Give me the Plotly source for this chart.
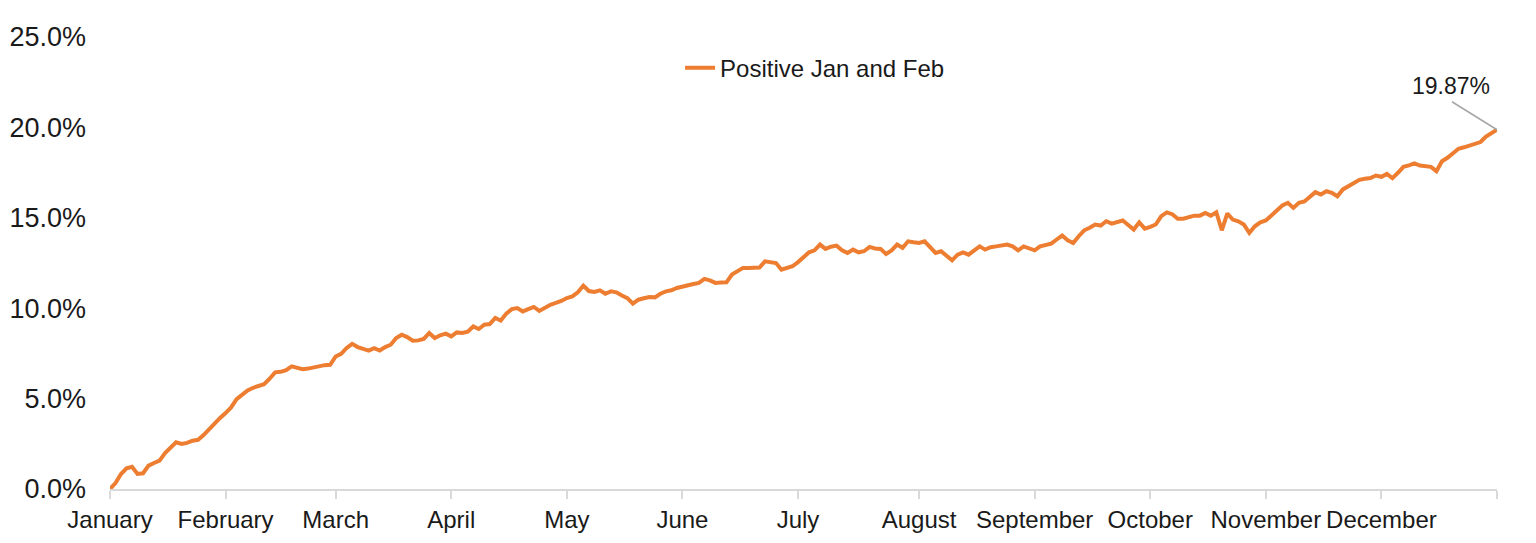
import plotly.graph_objects as go

# Trading-day index across the year (0 = first day of January)
trading_days = list(range(253))

# Cumulative return (%), one value per trading day
cum_return_pct = [
    0.00, 0.33, 0.83, 1.14, 1.23, 0.83, 0.87, 1.29, 1.44, 1.57,
    1.99, 2.25, 2.58, 2.49, 2.55, 2.67, 2.72, 2.98, 3.31, 3.68,
    3.93, 4.20, 4.51, 4.97, 5.22, 5.45, 5.60, 5.68, 5.80, 6.10,
    6.45, 6.48, 6.57, 6.78, 6.69, 6.63, 6.66, 6.72, 6.81, 6.85,
    6.87, 7.33, 7.48, 7.80, 8.03, 7.85, 7.75, 7.65, 7.79, 7.66,
    7.85, 7.98, 8.35, 8.53, 8.40, 8.20, 8.22, 8.30, 8.63, 8.35,
    8.50, 8.59, 8.44, 8.66, 8.63, 8.70, 8.99, 8.85, 9.09, 9.12,
    9.46, 9.32, 9.70, 9.95, 10.01, 9.82, 9.95, 10.07, 9.85, 10.05,
    10.19, 10.30, 10.40, 10.56, 10.65, 10.88, 11.25, 10.95, 10.90, 10.99,
    10.80, 10.93, 10.88, 10.70, 10.56, 10.25, 10.47, 10.55, 10.62, 10.60,
    10.80, 10.93, 10.99, 11.12, 11.20, 11.30, 11.34, 11.40, 11.62, 11.54,
    11.40, 11.42, 11.43, 11.86, 12.05, 12.23, 12.23, 12.22, 12.25, 12.59,
    12.54, 12.50, 12.13, 12.20, 12.32, 12.55, 12.80, 13.09, 13.20, 13.52,
    13.28, 13.40, 13.46, 13.20, 13.06, 13.24, 13.09, 13.15, 13.39, 13.30,
    13.28, 13.00, 13.20, 13.52, 13.34, 13.70, 13.65, 13.61, 13.70, 13.34,
    13.06, 13.15, 12.91, 12.65, 12.96, 13.09, 12.96, 13.20, 13.42, 13.24,
    13.37, 13.42, 13.48, 13.52, 13.42, 13.20, 13.42, 13.30, 13.20, 13.42,
    13.50, 13.57, 13.80, 14.02, 13.76, 13.61, 13.98, 14.31, 14.45, 14.63,
    14.57, 14.81, 14.68, 14.75, 14.85, 14.60, 14.35, 14.75, 14.40, 14.50,
    14.63, 15.09, 15.30, 15.20, 14.95, 14.95, 15.05, 15.12, 15.12, 15.27,
    15.12, 15.31, 14.31, 15.24, 14.90, 14.81, 14.63, 14.17, 14.53, 14.75,
    14.85, 15.10, 15.40, 15.68, 15.83, 15.55, 15.83, 15.90, 16.19, 16.42,
    16.29, 16.47, 16.38, 16.19, 16.57, 16.75, 16.95, 17.10, 17.16, 17.20,
    17.34, 17.27, 17.43, 17.19, 17.49, 17.82, 17.90, 18.01, 17.89, 17.86,
    17.82, 17.58, 18.13, 18.32, 18.56, 18.82, 18.90, 19.00, 19.06, 19.19,
    19.49, 19.65, 19.87,
]

series_name = "Positive Jan and Feb"

# Month boundaries (trading-day index) and their labels
month_tick_days = [0, 21, 41, 62, 83, 104, 125, 147, 168, 189, 210, 231, 252]
month_labels = ["January", "February", "March", "April", "May", "June", "July",
                "August", "September", "October", "November", "December", ""]

y_tick_values = [0, 5, 10, 15, 20, 25]
y_tick_labels = [f"{v:.1f}%" for v in y_tick_values]

ORANGE = "#ED7D31"
AXIS_GREY = "#d9d9d9"
TEXT = "#1a1a1a"
FONT = "Liberation Sans, Arial, sans-serif"

fig = go.Figure()
fig.add_trace(go.Scatter(
    x=trading_days, y=cum_return_pct, mode="lines", name=series_name,
    line=dict(color=ORANGE, width=4), hoverinfo="skip",
))

last_x = trading_days[-1]
last_y = cum_return_pct[-1]

fig.add_shape(
    type="line", xref="x", yref="y",
    xsizemode="pixel", ysizemode="pixel",
    xanchor=last_x, yanchor=last_y,
    x0=-45, y0=28, x1=0, y1=0,
    line=dict(color="#a6a6a6", width=1.5),
)
fig.add_annotation(
    x=last_x, y=last_y, text=f"{last_y:.2f}%", showarrow=False,
    xshift=-46, yshift=44, font=dict(size=23, color=TEXT, family=FONT),
)

fig.update_layout(
    width=1536, height=543,
    margin=dict(l=110, r=39, t=37, b=54, autoexpand=False),
    paper_bgcolor="white", plot_bgcolor="white",
    font=dict(family=FONT, color=TEXT),
    showlegend=True,
    legend=dict(
        xref="paper", yref="paper",
        x=0.411, y=0.931, xanchor="left", yanchor="middle",
        font=dict(size=24, color=TEXT, family=FONT),
        bgcolor="rgba(0,0,0,0)",
    ),
)

fig.update_xaxes(
    range=[0, 252], tickmode="array", tickvals=month_tick_days, ticktext=month_labels,
    tickangle=0,
    showgrid=False, zeroline=False,
    showline=True, linecolor=AXIS_GREY, linewidth=1.5,
    ticks="outside", ticklen=8, tickwidth=1.5, tickcolor=AXIS_GREY,
    tickfont=dict(size=24, color=TEXT, family=FONT),
)
fig.update_yaxes(
    range=[0, 25], tickmode="array", tickvals=y_tick_values, ticktext=y_tick_labels,
    showgrid=False, zeroline=False, showline=False,
    tickfont=dict(size=27, color=TEXT, family=FONT),
    ticklabelstandoff=23,
)

fig.write_html("out.html")
